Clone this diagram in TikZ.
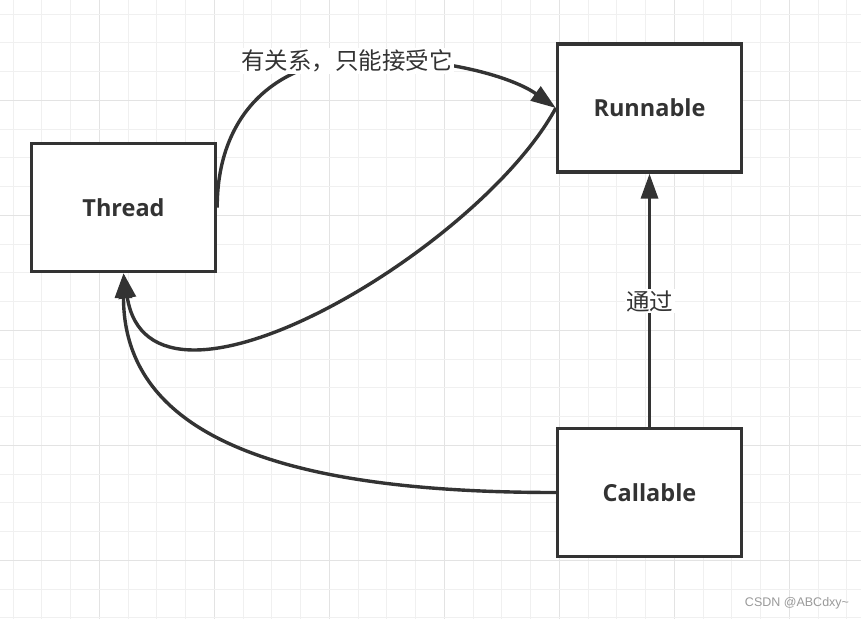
\documentclass[tikz,border=0pt]{standalone}
\usepackage{fontspec}
\setmainfont{Open Sans}
\newfontfamily\cjk{Noto Sans CJK SC}
\newfontfamily\wmfont{Liberation Sans}
\usetikzlibrary{arrows.meta}
\definecolor{ink}{HTML}{333333}
\definecolor{gridminor}{HTML}{F0F0F0}
\definecolor{gridmajor}{HTML}{E3E3E3}
\definecolor{wmgray}{HTML}{9A9A9A}
\tikzset{
  box/.style={draw=ink, line width=3.4pt, fill=white, minimum width=184pt, minimum height=128pt,
    inner sep=0pt, font=\bfseries\fontsize{23.5}{27}\selectfont, text=ink},
  conn/.style={draw=ink, line width=3.4pt, -{Triangle[length=25pt,width=17pt]}},
  lab/.style={fill=white, inner sep=1.5pt, font=\cjk\fontsize{23.5}{27}\selectfont, text=ink},
}
\begin{document}
\begin{tikzpicture}[x=1pt,y=-1pt]
\useasboundingbox (0,0) rectangle (861,619);
\fill[white] (0,0) rectangle (861,619);
% grid
\foreach \k in {0,...,29} {
  \pgfmathsetmacro{\xx}{13+\k*28.75}
  \pgfmathtruncatemacro{\m}{mod(\k,4)==3 ? 1 : 0}
  \ifnum\m=1
    \draw[gridmajor, line width=1pt] (\xx,0) -- (\xx,619);
  \else
    \draw[gridminor, line width=1pt] (\xx,0) -- (\xx,619);
  \fi
}
\foreach \k in {0,...,21} {
  \pgfmathsetmacro{\yy}{14+\k*28.75}
  \pgfmathtruncatemacro{\m}{mod(\k,4)==3 ? 1 : 0}
  \ifnum\m=1
    \draw[gridmajor, line width=1pt] (0,\yy) -- (861,\yy);
  \else
    \draw[gridminor, line width=1pt] (0,\yy) -- (861,\yy);
  \fi
}
% boxes
\node[box] (thread) at (123.5,207.5) {Thread};
\node[box] (run) at (649.5,108) {Runnable};
\node[box] (call) at (649.5,492.5) {Callable};
% connectors
\coordinate (l1c) at (347,60);
\draw[conn] (thread.east) .. controls +(0,-97) and +(-67,4) .. (l1c)
  .. controls +(83,-6) and +(-46,-33) .. (run.west);
\draw[conn] (run.west) .. controls +(-77,142) and +(27,172) .. (thread.south);
\draw[conn] (call.west) .. controls +(-237,0) and +(0,178) .. (thread.south);
\draw[conn] (call.north) -- coordinate (l2c) (run.south);
% labels
\node[lab] (l1) at (347,61) {有关系，只能接受它};
\node[lab] (l2) at (649.5,301) {通过};
% watermark
\node[font=\wmfont\fontsize{12.5}{14}\selectfont, text=wmgray] (wm) at (797,603) {CSDN @ABCdxy\textasciitilde};
\end{tikzpicture}
\end{document}
